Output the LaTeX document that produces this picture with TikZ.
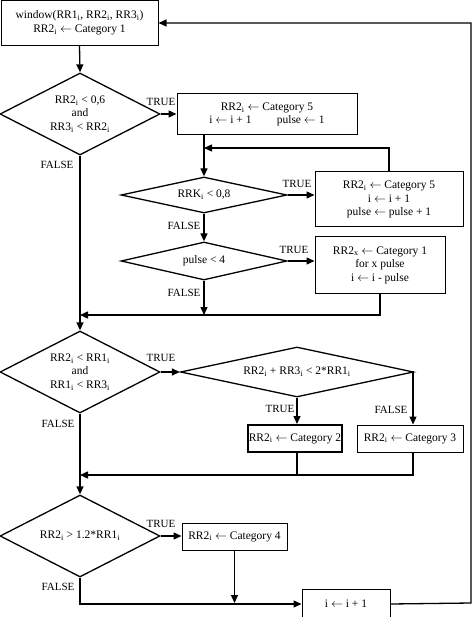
\documentclass[tikz,border=0pt]{standalone}
\usepackage{fontspec}
\setmainfont{Liberation Serif}
\usetikzlibrary{shapes.geometric,arrows.meta}
\newcommand{\sbi}{\textsubscript{i}}
\begin{document}
\begin{tikzpicture}[x=1pt,y=-1pt,
  font=\fontsize{11.5}{13.5}\selectfont,
  box/.style={draw,line width=1pt,inner sep=0pt,align=center},
  dia/.style={draw,diamond,line width=1.3pt,inner sep=0pt,align=center},
  arr/.style={line width=1.3pt,-{Triangle[length=8pt,width=7pt]}},
  ln/.style={line width=1.3pt},
  lbl/.style={inner sep=0pt,font=\fontsize{11}{12}\selectfont}]
\useasboundingbox (0,0) rectangle (474,617);

% nodes
\node[box,minimum width=157pt,minimum height=45pt] (start) at (79.5,23)
  {window(RR1\sbi, RR2\sbi, RR3\sbi)\\RR2\sbi{} $\leftarrow$ Category 1};
\node[dia,aspect=1.95,minimum width=160pt,minimum height=82pt] (d1) at (80,114)
  {RR2\sbi{} < 0,6\\and\\RR3\sbi{} < RR2\sbi};
\node[box,minimum width=180pt,minimum height=41pt] (b2) at (267,114.5)
  {RR2\sbi{} $\leftarrow$ Category 5\\i $\leftarrow$ i + 1\hspace{2.2em}pulse $\leftarrow$ 1};
\node[dia,aspect=4.6,minimum width=166pt,minimum height=36pt] (d3) at (204,195)
  {RRK\sbi{} < 0,8};
\node[box,minimum width=148pt,minimum height=55pt] (b3) at (389,199.5)
  {RR2\sbi{} $\leftarrow$ Category 5\\i $\leftarrow$ i + 1\\pulse $\leftarrow$ pulse + 1};
\node[dia,aspect=4.4,minimum width=166pt,minimum height=38pt] (d4) at (204,261)
  {pulse < 4};
\node[box,minimum width=130pt,minimum height=56pt] (b4) at (380,265)
  {RR2\textsubscript{x} $\leftarrow$ Category 1\\for x pulse\\i $\leftarrow$ i - pulse};
\node[dia,aspect=1.95,minimum width=160pt,minimum height=82pt] (d5) at (80,372)
  {RR2\sbi{} < RR1\sbi\\and\\RR1\sbi{} < RR3\sbi};
\node[dia,aspect=4.66,minimum width=233pt,minimum height=50pt] (d6) at (297,372)
  {RR2\sbi{} + RR3\sbi{} < 2*RR1\sbi};
\node[box,line width=2pt,minimum width=94pt,minimum height=27pt] (b6) at (295,438.5)
  {RR2\sbi{} $\leftarrow$ Category 2};
\node[box,minimum width=106pt,minimum height=27pt] (b7) at (410,438.5)
  {RR2\sbi{} $\leftarrow$ Category 3};
\node[dia,aspect=1.95,minimum width=160pt,minimum height=82pt] (d7) at (80,536)
  {RR2\sbi{} > 1.2*RR1\sbi};
\node[box,minimum width=105pt,minimum height=27pt] (b8) at (234.5,536.5)
  {RR2\sbi{} $\leftarrow$ Category 4};
\node[box,minimum width=88pt,minimum height=30pt] (b9) at (346,604)
  {i $\leftarrow$ i + 1};

% helper coordinates
\coordinate (loop) at (204,148);
\coordinate (m1) at (80,315);
\coordinate (m2) at (80,475);
\coordinate (d6r) at (413,372);
\coordinate (bot) at (80,603);
\coordinate (rgt) at (471,603);

% connectors
\draw[arr] (start.south) -- (d1.north);
\draw[arr] (d1.east) -- (b2.west |- d1.east);
\draw[arr] (d3.north |- b2.south) -- (d3.north);
\draw[arr] (b3.north) |- (loop);
\draw[arr] (d3.east) -- (d3.east -| b3.west);
\draw[arr] (d3.south) -- (d4.north);
\draw[arr] (d4.east) -- (d4.east -| b4.west);
\draw[arr] (d4.south) -- (d4.south |- m1);
\draw[arr] (b4.south) |- (m1);
\draw[arr] (d1.south) -- (d5.north);
\draw[arr] (d5.east) -- (d6.west);
\draw[arr] (d6.south) -- (b6.north -| d6.south);
\draw[ln] (d6.east) -- (d6r);
\draw[arr] (d6r) -- (d6r |- b7.north);
\draw[ln] (b6.south -| d6.south) -- (d6.south |- m2);
\draw[arr] (d6r |- b7.south) |- (m2);
\draw[arr] (d5.south) -- (d7.north);
\draw[arr] (d7.east) -- (b8.west |- d7.east);
\draw[arr] (b8.south) -- (b8.south |- bot);
\draw[arr] (d7.south) |- (b9.west);
\draw[arr] (b9.east) -- (rgt) |- (start.east);

% labels
\node[lbl] (t1) at (161,102) {TRUE};
\node[lbl] (f1) at (57,165) {FALSE};
\node[lbl] (t3) at (297,184) {TRUE};
\node[lbl] (f3) at (184,226) {FALSE};
\node[lbl] (t4) at (294,250) {TRUE};
\node[lbl] (f4) at (184,293) {FALSE};
\node[lbl] (t5) at (161,358) {TRUE};
\node[lbl] (f5) at (58,424) {FALSE};
\node[lbl] (t6) at (280,409) {TRUE};
\node[lbl] (f6) at (391,410) {FALSE};
\node[lbl] (t7) at (161,524) {TRUE};
\node[lbl] (f7) at (58,587) {FALSE};
\end{tikzpicture}
\end{document}
